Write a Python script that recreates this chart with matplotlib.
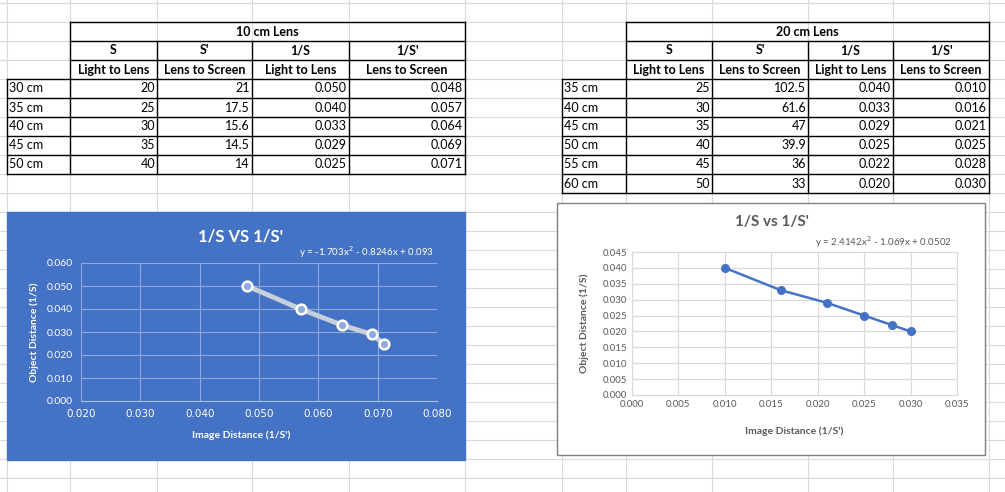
import numpy as np
import matplotlib.pyplot as plt
from matplotlib.lines import Line2D
from matplotlib.patches import Rectangle

plt.rcParams['font.family'] = ['Lato', 'DejaVu Sans']

W, H = 1005, 492

# data
row_labels_10 = ['30 cm', '35 cm', '40 cm', '45 cm', '50 cm']
s_10 = ['20', '25', '30', '35', '40']
sp_10 = ['21', '17.5', '15.6', '14.5', '14']
inv_s_10 = [0.050, 0.040, 0.033, 0.029, 0.025]
inv_sp_10 = [0.048, 0.057, 0.064, 0.069, 0.071]

row_labels_20 = ['35 cm', '40 cm', '45 cm', '50 cm', '55 cm', '60 cm']
s_20 = ['25', '30', '35', '40', '45', '50']
sp_20 = ['102.5', '61.6', '47', '39.9', '36', '33']
inv_s_20 = [0.040, 0.033, 0.029, 0.025, 0.022, 0.020]
inv_sp_20 = [0.010, 0.016, 0.021, 0.025, 0.028, 0.030]

fig = plt.figure(figsize=(W / 100, H / 100), dpi=100)
fig.patch.set_facecolor('white')


def fx(x):
    return x / W


def fy(y):
    return 1 - y / H


def hline(x0, x1, y, c='black', lw=1.0, z=3):
    fig.add_artist(Line2D([fx(x0), fx(x1)], [fy(y), fy(y)], color=c, lw=lw, zorder=z))


def vline(x, y0, y1, c='black', lw=1.0, z=3):
    fig.add_artist(Line2D([fx(x), fx(x)], [fy(y0), fy(y1)], color=c, lw=lw, zorder=z))


# spreadsheet gridlines
grid_c = '#dadada'
for gx in [7, 70, 157, 252, 349, 465, 562, 626, 712, 808, 893, 989]:
    vline(gx, 0, H, c=grid_c, lw=0.8, z=1)
for gy in range(3, H, 19):
    hline(0, W, gy, c=grid_c, lw=0.8, z=1)


def draw_table(x_cols, title, labels, c1, c2, c3, c4):
    rows = [22, 41, 60, 79] + [79 + 19 * (i + 1) for i in range(len(labels))]
    x0, x_end = x_cols[0], x_cols[-1]
    hline(x_cols[1], x_end, 22)
    hline(x_cols[1], x_end, 41)
    hline(x_cols[1], x_end, 60)
    for r in rows[3:]:
        hline(x0, x_end, r)
    vline(x_cols[1], 22, rows[-1])
    vline(x_end, 22, rows[-1])
    vline(x0, 79, rows[-1])
    for cx in x_cols[2:-1]:
        vline(cx, 41, rows[-1])
    fig.text(fx((x_cols[1] + x_end) / 2), fy(31.5), title, ha='center', va='center',
             fontsize=9, fontweight='bold', zorder=4)
    heads = ['S', "S'", '1/S', "1/S'"]
    subs = ['Light to Lens', 'Lens to Screen', 'Light to Lens', 'Lens to Screen']
    for i in range(4):
        cx = (x_cols[i + 1] + x_cols[i + 2]) / 2
        fig.text(fx(cx), fy(50.5), heads[i], ha='center', va='center', fontsize=9,
                 fontweight='bold', zorder=4)
        fig.text(fx(cx), fy(69.5), subs[i], ha='center', va='center', fontsize=9,
                 fontweight='bold', zorder=4)
    for j, lab in enumerate(labels):
        yc = fy(88.5 + 19 * j)
        fig.text(fx(x0 + 2), yc, lab, ha='left', va='center', fontsize=9, zorder=4)
        vals = [c1[j], c2[j], '%.3f' % c3[j], '%.3f' % c4[j]]
        for i, v in enumerate(vals):
            fig.text(fx(x_cols[i + 2] - 2), yc, v, ha='right', va='center', fontsize=9, zorder=4)


draw_table([7, 70, 157, 252, 349, 465], '10 cm Lens', row_labels_10, s_10, sp_10, inv_s_10, inv_sp_10)
draw_table([562, 626, 712, 808, 893, 989], '20 cm Lens', row_labels_20, s_20, sp_20, inv_s_20, inv_sp_20)

# left chart (blue)
blue = '#4472C4'
fig.add_artist(Rectangle((fx(7), fy(460)), fx(465 - 7), (460 - 212) / H,
                         color=blue, transform=fig.transFigure, zorder=2))
ax1 = fig.add_axes([fx(81), fy(401), fx(437 - 81), (401 - 263) / H])
ax1.set_zorder(5)
ax1.set_facecolor(blue)
ax1.plot(inv_sp_10, inv_s_10, color='#c8cfdc', lw=3.5, zorder=2)
ax1.plot(inv_sp_10, inv_s_10, 'o', ms=7, mfc='#8faadc', mec='white', mew=1.8, ls='none', zorder=3)
ax1.set_xlim(0.02, 0.08)
ax1.set_ylim(0, 0.06)
ax1.set_xticks(np.arange(0.02, 0.0801, 0.01))
ax1.set_yticks(np.arange(0, 0.0601, 0.01))
ax1.xaxis.set_major_formatter(plt.FormatStrFormatter('%.3f'))
ax1.yaxis.set_major_formatter(plt.FormatStrFormatter('%.3f'))
ax1.grid(True, color='#8ea9db', lw=0.8)
ax1.set_axisbelow(True)
for sp in ax1.spines.values():
    sp.set_visible(False)
ax1.spines['bottom'].set_visible(True)
ax1.spines['bottom'].set_color('#a9bde6')
ax1.tick_params(colors='white', length=0, labelsize=7.5, pad=6)
for t in ax1.get_xticklabels():
    t.set_fontfamily('DejaVu Sans')
fig.text(fx(241), fy(236), "1/S VS 1/S'", ha='center', va='center', color='white',
         fontsize=12, fontweight='bold', zorder=4)
fig.text(fx(434), fy(252), 'y = -1.703x$^2$ - 0.8246x + 0.093', ha='right', va='center',
         color='white', fontsize=7, zorder=4)
fig.text(fx(241), fy(435), "Image Distance (1/S')", ha='center', va='center', color='white',
         fontsize=7.5, fontweight='bold', zorder=4)
fig.text(fx(34), fy(332), 'Object Distance (1/S)', ha='center', va='center', color='white',
         fontsize=7.5, fontweight='bold', rotation=90, zorder=4)

# right chart (white)
fig.add_artist(Rectangle((fx(557), fy(455)), fx(985 - 557), (455 - 203) / H,
                         facecolor='white', edgecolor='#7f7f7f', lw=1,
                         transform=fig.transFigure, zorder=2))
ax2 = fig.add_axes([fx(632), fy(395), fx(957 - 632), (395 - 252) / H])
ax2.set_zorder(5)
ax2.plot(inv_sp_20, inv_s_20, '-o', color=blue, lw=1.8, ms=5.5)
ax2.set_xlim(0, 0.035)
ax2.set_ylim(0, 0.045)
ax2.set_xticks(np.arange(0, 0.0351, 0.005))
ax2.set_yticks(np.arange(0, 0.0451, 0.005))
ax2.xaxis.set_major_formatter(plt.FormatStrFormatter('%.3f'))
ax2.yaxis.set_major_formatter(plt.FormatStrFormatter('%.3f'))
ax2.grid(True, color='#d9d9d9', lw=0.8)
ax2.set_axisbelow(True)
for sp in ax2.spines.values():
    sp.set_color('#d9d9d9')
ax2.tick_params(colors='#595959', length=0, labelsize=7)
fig.text(fx(772), fy(222), "1/S vs 1/S'", ha='center', va='center', color='#595959',
         fontsize=11, fontweight='bold', zorder=4)
fig.text(fx(952), fy(242), 'y = 2.4142x$^2$ - 1.069x + 0.0502', ha='right', va='center',
         color='#595959', fontsize=7, zorder=4)
fig.text(fx(794), fy(431), "Image Distance (1/S')", ha='center', va='center', color='#595959',
         fontsize=7.5, fontweight='bold', zorder=4)
fig.text(fx(584), fy(323), 'Object Distance (1/S)', ha='center', va='center', color='#595959',
         fontsize=7.5, fontweight='bold', rotation=90, zorder=4)

fig.savefig('out.png', dpi=100)
